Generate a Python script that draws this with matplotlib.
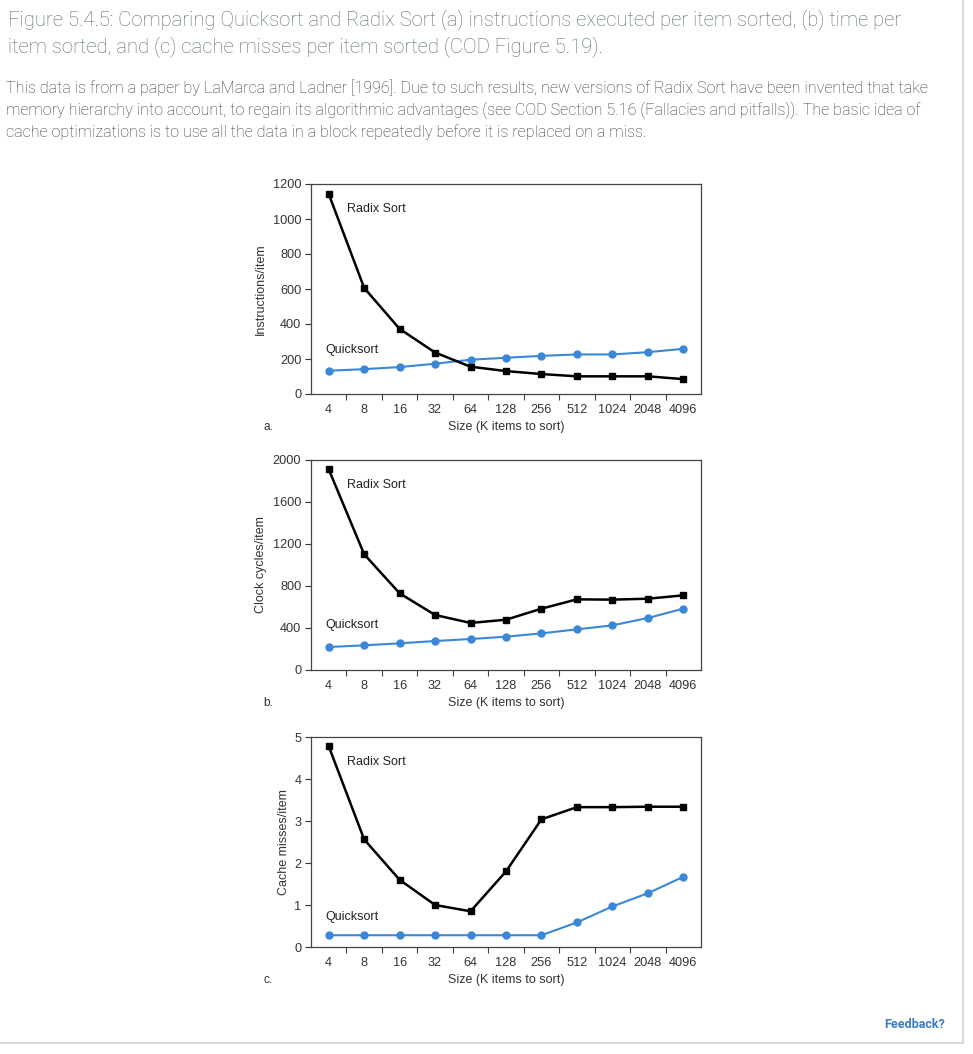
import matplotlib.pyplot as plt
from matplotlib.lines import Line2D

plt.rcParams['font.family'] = ['Liberation Sans', 'DejaVu Sans']

sizes = ["4", "8", "16", "32", "64", "128", "256", "512", "1024", "2048", "4096"]

# (a) instructions per item
radix_instr = [1143, 606, 372, 237, 156, 131, 114, 101, 101, 101, 85]
quick_instr = [133, 142, 154, 173, 196, 207, 218, 226, 226, 239, 258]

# (b) clock cycles per item
radix_clock = [1911, 1102, 730, 524, 448, 479, 584, 673, 670, 679, 711]
quick_clock = [219, 235, 254, 276, 295, 317, 349, 387, 425, 495, 584]

# (c) cache misses per item
radix_miss = [4.78, 2.56, 1.60, 1.00, 0.85, 1.80, 3.04, 3.33, 3.33, 3.34, 3.34]
quick_miss = [0.28, 0.28, 0.28, 0.28, 0.28, 0.28, 0.28, 0.585, 0.965, 1.28, 1.67]

W, H = 973, 1054
fig = plt.figure(figsize=(W / 100, H / 100), dpi=100)

title_col = '#5c6c74'
fig.text(8 / W, 1 - 20 / H, "Figure 5.4.5: Comparing Quicksort and Radix Sort (a) instructions executed per item sorted, (b) time per",
         family=['Roboto', 'DejaVu Sans'], fontweight='light', fontsize=14.6, color=title_col, va='center')
fig.text(8 / W, 1 - 47 / H, "item sorted, and (c) cache misses per item sorted (COD Figure 5.19).",
         family=['Roboto', 'DejaVu Sans'], fontweight='light', fontsize=14.6, color=title_col, va='center')

para = ["This data is from a paper by LaMarca and Ladner [1996]. Due to such results, new versions of Radix Sort have been invented that take",
        "memory hierarchy into account, to regain its algorithmic advantages (see COD Section 5.16 (Fallacies and pitfalls)). The basic idea of",
        "cache optimizations is to use all the data in a block repeatedly before it is replaced on a miss."]
for i, line in enumerate(para):
    fig.text(6 / W, 1 - (88 + 22 * i) / H, line, family=['Roboto', 'DejaVu Sans'], fontweight='light',
             fontsize=11.6, color='#333333', va='center')

fig.text(945 / W, 1 - 1024 / H, "Feedback?", family=['Roboto', 'DejaVu Sans'], fontweight='bold',
         fontsize=9, color='#3b7dc4', ha='right', va='center')

# card border
fig.add_artist(Line2D([963 / W, 963 / W], [1, 1 - 1043 / H], color='#d9d9d9', lw=1.5))
fig.add_artist(Line2D([0, 963 / W], [1 - 1043 / H, 1 - 1043 / H], color='#d9d9d9', lw=1.5))

panels = [
    (394, radix_instr, quick_instr, "Instructions/item", (0, 1200), range(0, 1201, 200), "a.", -0.112, 0.21),
    (670, radix_clock, quick_clock, "Clock cycles/item", (0, 2000), range(0, 2001, 400), "b.", -0.112, 0.214),
    (947, radix_miss, quick_miss, "Cache misses/item", (0, 5), range(0, 6), "c.", -0.055, 0.143),
]

x = list(range(len(sizes)))
for bottom, radix, quick, ylab, ylim, yticks, tag, ylx, qy in panels:
    ax = fig.add_axes([311 / W, 1 - bottom / H, 390 / W, 210 / H])
    ax.plot(x, quick, color='#3a87d8', lw=1.5, marker='o', ms=5, zorder=3)
    ax.plot(x, radix, color='black', lw=1.8, marker='s', ms=5, zorder=4)
    ax.set_xlim(-0.5, 10.5)
    ax.set_ylim(*ylim)
    ax.set_yticks(list(yticks))
    ax.set_xticks(x)
    ax.set_xticklabels(sizes)
    ax.set_xticks([i + 0.5 for i in x[:-1]], minor=True)
    ax.tick_params(axis='x', which='major', length=0, pad=7, labelsize=9.2, colors='#333333')
    ax.tick_params(axis='x', which='minor', length=4, width=0.8, color='#444444')
    ax.tick_params(axis='y', length=4, width=0.8, labelsize=9.2, colors='#333333', pad=3)
    for sp in ax.spines.values():
        sp.set_color('#444444')
        sp.set_linewidth(0.9)
    ax.set_ylabel(ylab, fontsize=9, color='#333333')
    ax.yaxis.set_label_coords(ylx, 0.5)
    ax.set_xlabel("Size (K items to sort)", fontsize=9, color='#333333')
    ax.xaxis.set_label_coords(0.5, -0.128)
    ax.text(-0.11, -0.157, tag, transform=ax.transAxes, fontsize=8.5, color='#333333', ha='center', va='center')
    ax.text(0.092, 0.883, "Radix Sort", transform=ax.transAxes, fontsize=9, color='#222222', va='center')
    ax.text(0.036, qy, "Quicksort", transform=ax.transAxes, fontsize=9, color='#222222', va='center')

fig.savefig("out.png", dpi=100)
